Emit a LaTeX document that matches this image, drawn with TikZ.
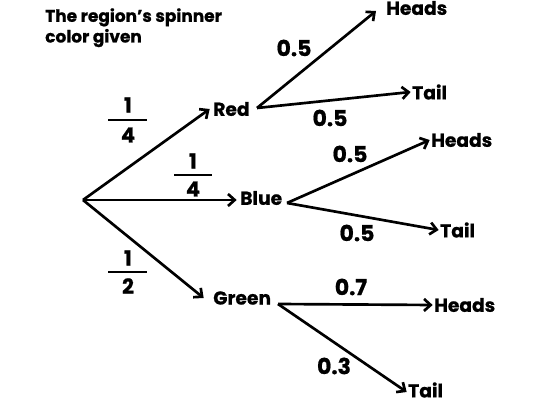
\documentclass[tikz,border=0pt]{standalone}
\usepackage{fontspec}
\setmainfont{Poppins}[BoldFeatures={FakeBold=0.8}]
\usetikzlibrary{arrows.meta}
\tikzset{
  lbl/.style={font=\bfseries\fontsize{14}{16}\selectfont, inner sep=0pt, text=black},
  num/.style={font=\bfseries\fontsize{16.5}{18}\selectfont, inner sep=0pt, text=black},
  frac/.style={font=\bfseries\fontsize{15.5}{18}\selectfont, inner sep=0pt, text=black},
  ttl/.style={font=\bfseries\fontsize{12.7}{15.5}\selectfont, inner sep=0pt, align=left, anchor=north west},
  arr/.style={line width=2pt, -{Straight Barb[length=5pt,width=9pt,line width=2pt]}},
  fbar/.style={line width=2pt}
}
\begin{document}
\begin{tikzpicture}[x=0.75pt,y=-0.75pt]
\useasboundingbox (0,0) rectangle (537,403);
\node[ttl] (title) at (45,8) {The region’s spinner\\color given};
\coordinate (root) at (83,200);
% level 1 nodes
\node[lbl, anchor=west] (red) at (213,109) {Red};
\node[lbl, anchor=west] (blue) at (240,198) {Blue};
\node[lbl, anchor=west] (green) at (213,298) {Green};
\draw[arr] (root) -- ([xshift=-2.5pt]red.west);
\draw[arr] (root) -- ([xshift=-2.5pt,yshift=-1.5pt]blue.west);
\draw[arr] (root) -- ([xshift=-7pt]green.west);
% fractions
\node[frac] (f1n) at (128,105) {1};
\node[frac] (f1d) at (128,135) {4};
\draw[fbar] (108,120) -- (147,120);
\node[frac] (f2n) at (193,161) {1};
\node[frac] (f2d) at (193,189) {4};
\draw[fbar] (174,175) -- (212,175);
\node[frac] (f3n) at (128,258) {1};
\node[frac] (f3d) at (128,286) {2};
\draw[fbar] (108,272) -- (147,272);
% red branches
\coordinate (rs) at (257,108);
\node[lbl, anchor=west] (rh) at (386,8) {Heads};
\node[lbl, anchor=west] (rt) at (412,92) {Tail};
\draw[arr] (rs) -- (376,11) coordinate (rhe);
\draw[arr] (rs) -- ([xshift=-1pt,yshift=0pt]rt.west);
\node[num] (p1) at (294,48) {0.5};
\node[num] (p2) at (330,118) {0.5};
% blue branches
\coordinate (bs) at (287,203);
\node[lbl, anchor=west] (bh) at (431,140) {Heads};
\node[lbl, anchor=west] (bt) at (440,230) {Tail};
\draw[arr] (bs) -- ([xshift=-1pt,yshift=0pt]bh.west);
\draw[arr] (bs) -- ([xshift=-1pt,yshift=0pt]bt.west);
\node[num] (p3) at (350,154) {0.5};
\node[num] (p4) at (357,233) {0.5};
% green branches
\coordinate (gs) at (278,304);
\node[lbl, anchor=west] (gh) at (434,305) {Heads};
\node[lbl, anchor=west] (gt) at (408,390) {Tail};
\draw[arr] (gs) -- ([xshift=-1pt,yshift=0pt]gh.west);
\draw[arr] (gs) -- ([xshift=-1pt,yshift=-1.5pt]gt.west);
\node[num] (p5) at (351,287) {0.7};
\node[num] (p6) at (334,366) {0.3};
\end{tikzpicture}
\end{document}
